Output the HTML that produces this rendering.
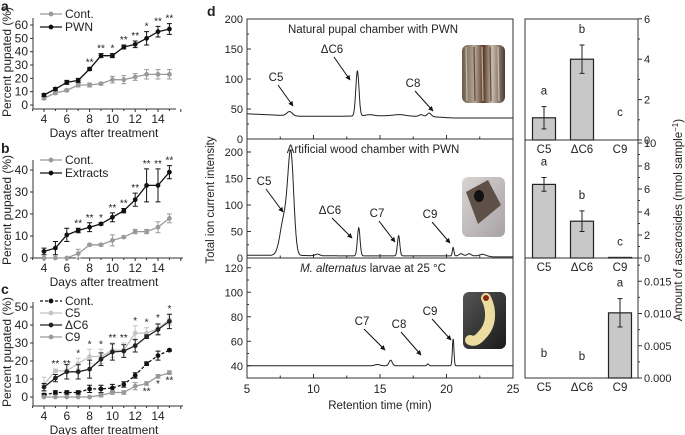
<!DOCTYPE html>
<html><head><meta charset="utf-8">
<style>
body{margin:0;background:#fff;}
svg{display:block;font-family:"Liberation Sans",Arial,sans-serif;}
text{fill:#222;}
</style></head>
<body>
<svg id="fig" width="685" height="435" viewBox="0 0 685 435" xmlns="http://www.w3.org/2000/svg">
<defs>
<marker id="arr" viewBox="0 0 10 10" refX="9" refY="5" markerWidth="5" markerHeight="5" orient="auto"><path d="M0,0 L10,5 L0,10 z" fill="#111"/></marker>
<linearGradient id="wood" x1="0" x2="1"><stop offset="0" stop-color="#6b5a4a"/><stop offset="0.3" stop-color="#b8a898"/><stop offset="0.5" stop-color="#5a3a28"/><stop offset="0.7" stop-color="#c8bcae"/><stop offset="1" stop-color="#4a3a30"/></linearGradient>
<linearGradient id="block" x1="0" y1="0" x2="1" y2="1"><stop offset="0" stop-color="#d8d4d2"/><stop offset="1" stop-color="#a8a2a6"/></linearGradient>
<linearGradient id="dark" x1="0" y1="0" x2="1" y2="1"><stop offset="0" stop-color="#555"/><stop offset="1" stop-color="#1a1a1a"/></linearGradient>
</defs>
<g id="root"></g>
</svg>
<script>
// ---------- Data: panels a–c ----------
const days = [4,5,6,7,8,9,10,11,12,13,14,15];
const aCont = [5,9,11,15,15,16,19,19,21,23,23,23];
const aContErr = [1,1,1,1.5,1.5,1,2.5,3,2.5,3.5,3.5,3.5];
const aPWN = [7.5,12,17,18.5,27,37,37,43.5,45.5,50,55,57];
const aPWNErr = [1,1,1.5,1.5,1,1.5,1.5,1.5,2.5,5,4,4];
const aStars = ["","","","","**","**","*","**","**","*","**","**"];
const bCont = [0,0,0,2,6,6,8,9.5,12,12,14,18];
const bContErr = [0,0,0,2,0.5,0.5,2.5,0.5,1,1,2.5,2];
const bExt = [3,4.5,10.5,12.5,14,15.5,18.5,21.5,26.5,33,33,39];
const bExtErr = [1.5,3,3,1,2,0.5,2,1,3,7.5,7.5,3];
const bStars = ["","","","**","**","*","**","**","**","**","**","**"];
const cCont = [1,2.5,2.5,2.5,4.5,4.5,5,7,12,18.5,23,26];
const cContErr = [1,1,1,1,2,2,2,1.5,1.5,1,2.5,0.5];
const cC5 = [7,14.5,14.5,18.5,22.5,22.5,26,26,35.5,35.5,38,43];
const cC5Err = [4,1,1,3,4,4,4,4,4,3,3,3];
const cDC6 = [5.5,10.5,14,14,15.5,21,25,25.5,28.5,33.5,37.5,42];
const cDC6Err = [2,2,4,4,5,3.5,4.5,3.5,3.5,1,3,4];
const cC9 = [0,0,0,0,0,1,2.5,2.5,6,7.5,11.5,13.5];
const cC9Err = [0,0,0,0,0,1,1,1,2,1,1,1];
const cStarsTop = ["","**","**","*","*","*","**","**","*","*","*","*"];
const cStarsBot = ["","","","","","","","","","**","*","**"];
const xTicksDays = [4,6,8,10,12,14];
// ---------- Data: chromatograms (peaks: retention time, height above baseline, width) ----------
const topBase = [[5,42],[7,40],[9,38],[12,38],[16,39],[19,37],[20.5,35],[25,35]];
const topPeakRT = [8.2,13.3,14.2,18.1,18.7,16.5];
const topPeakH = [7,75,2,3,6,2];
const topPeakW = [0.2,0.12,0.3,0.15,0.15,0.4];
const midBase = [[5,5],[8,5],[12,4],[20,4],[23,4],[23.5,2],[25,2]];
const midPeakRT = [7.8,8.3,10.3,13.4,16.4,20.5,21.1,21.7,22.7];
const midPeakH = [70,180,3,53,38,16,4,4,3];
const midPeakW = [0.3,0.22,0.15,0.1,0.09,0.06,0.15,0.15,0.2];
const botBase = [[5,40],[25,40]];
const botPeakRT = [14.8,15.8,18.6,20.5];
const botPeakH = [1,4.5,1.5,22];
const botPeakW = [0.2,0.12,0.07,0.06];
// ---------- Data: bars ----------
const barCats = ["C5","ΔC6","C9"];
const bar1Vals = [1.1,4.0,0];
const bar1Err = [0.55,0.7,0];
const bar1Letters = ["a","b","c"];
const bar2Vals = [6.4,3.2,0.05];
const bar2Err = [0.6,0.9,0];
const bar2Letters = ["a","b","c"];
const bar3Vals = [0,0,0.0101];
const bar3Err = [0,0,0.0022];
const bar3Letters = ["b","b","a"];

const NS="http://www.w3.org/2000/svg";
const root=document.getElementById('root');
function el(tag,attrs,parent,txt){const e=document.createElementNS(NS,tag);for(const k in attrs)e.setAttribute(k,attrs[k]);if(txt!==undefined)e.textContent=txt;(parent||root).appendChild(e);return e;}
function G(name){const g=el('g',{});return g;}

// ---------- Line charts ----------
function lineChart(cfg){
  const g=G(cfg.name);
  const X=d=>44+(d-4)*11.4;
  const Y=v=>cfg.y0-v*cfg.k;
  const ax=el('path',{d:`M33,${cfg.yTop} L33,${cfg.axY} L${cfg.xEnd},${cfg.axY}`,stroke:'#333',fill:'none','stroke-width':1},g);
  
  for(let d=3;d<=16;d++){el('line',{x1:X(d),x2:X(d),y1:cfg.axY,y2:cfg.axY+(d%2==0?3:2),stroke:'#333'},g);}
  xTicksDays.forEach(d=>{const t=el('text',{x:X(d),y:cfg.axY+14,'text-anchor':'middle','font-size':12},g,d);});
  cfg.yTicks.forEach(v=>{el('line',{x1:30,x2:33,y1:Y(v),y2:Y(v),stroke:'#333'},g);const t=el('text',{x:28,y:Y(v)+4,'text-anchor':'end','font-size':12},g,v);});
  const xt=el('text',{x:104,y:cfg.axY+28,'text-anchor':'middle','font-size':12},g,'Days after treatment');
  
  const yt=el('text',{x:0,y:0,'text-anchor':'middle','font-size':12,transform:`translate(11,${cfg.yMid}) rotate(-90)`},g,'Percent pupated (%)');
  
  const pl=el('text',{x:1,y:cfg.letterY,'font-size':14,'font-weight':'bold'},g,cfg.letter);
  
  cfg.series.forEach(s=>{
    const sg=el('g',{},g);
    s.vals.forEach((v,i)=>{if(s.err[i]>0){const x=X(days[i]);el('path',{d:`M${x},${Y(v-s.err[i])}V${Y(v+s.err[i])}M${x-2.5},${Y(v-s.err[i])}h5M${x-2.5},${Y(v+s.err[i])}h5`,stroke:s.c,fill:'none','stroke-width':1},sg);}});
    const pts=s.vals.map((v,i)=>X(days[i])+','+Y(v)).join(' ');
    const ln=el('polyline',{points:pts,fill:'none',stroke:s.c,'stroke-width':s.w||1.3,'stroke-dasharray':s.dash||'none'},sg);
    
    s.vals.forEach((v,i)=>{const m=el('circle',{cx:X(days[i]),cy:Y(v),r:1.9,fill:s.c,stroke:s.c},sg);});
  });
  (cfg.stars||[]).forEach(st=>{st.labels.forEach((lab,i)=>{if(!lab)return;const s=st.ref;const y=st.below?Y(s.vals[i]-s.err[i])+9:Y(s.vals[i]+s.err[i])-2;el('text',{x:X(days[i]),y:y,'text-anchor':'middle','font-size':st.size||10,fill:st.c||'#222'},g,lab);});});
  cfg.series.forEach((s,i)=>{const ly=cfg.legY+i*cfg.legDy;const lg=el('g',{},g);
    el('line',{x1:40,x2:62,y1:ly,y2:ly,stroke:s.c,'stroke-width':1.3,'stroke-dasharray':s.dash||'none'},lg);
    el('circle',{cx:51,cy:ly,r:1.9,fill:s.c,stroke:s.c},lg);
    el('text',{x:65,y:ly+4,'font-size':12},lg,s.label);});
}
const aS={key:'cont',label:'Cont.',vals:aCont,err:aContErr,c:'#9a9a9a'};
const aP={key:'pwn',label:'PWN',vals:aPWN,err:aPWNErr,c:'#111'};
lineChart({name:'panel-a',letter:'a',letterY:11,y0:105,k:1.333,yTop:18,axY:109,xEnd:176,yTicks:[0,10,20,30,40,50,60],yMid:62,legY:14,legDy:13,series:[aS,aP],stars:[{ref:aP,labels:aStars}]});
const bS={key:'cont',label:'Cont.',vals:bCont,err:bContErr,c:'#9a9a9a'};
const bE={key:'extracts',label:'Extracts',vals:bExt,err:bExtErr,c:'#111'};
lineChart({name:'panel-b',letter:'b',letterY:153,y0:258,k:2.2,yTop:160,axY:258,xEnd:183,yTicks:[0,10,20,30,40],yMid:210,legY:160,legDy:13,series:[bS,bE],stars:[{ref:bE,labels:bStars}]});
const cS1={key:'cont',label:'Cont.',vals:cCont,err:cContErr,c:'#111',dash:'3,2'};
const cS2={key:'c5',label:'C5',vals:cC5,err:cC5Err,c:'#c4c4c4'};
const cS3={key:'dc6',label:'ΔC6',vals:cDC6,err:cDC6Err,c:'#222'};
const cS4={key:'c9',label:'C9',vals:cC9,err:cC9Err,c:'#9a9a9a'};
lineChart({name:'panel-c',letter:'c',letterY:294,y0:397,k:1.8,yTop:302,axY:406,xEnd:183,yTicks:[0,10,20,30,40,50],yMid:352,legY:301,legDy:12,series:[cS1,cS2,cS3,cS4],stars:[{ref:cS2,labels:cStarsTop,c:'#bbb'},{ref:cS4,labels:cStarsBot,c:'#bbb',below:true}]});

// ---------- Chromatograms ----------
const RX=t=>247+(t-5)*13.3;
const chromG=G('panel-d-chromatograms');
el('text',{x:207,y:16,'font-size':14,'font-weight':'bold'},chromG,'d');
function interp(base,t){for(let i=0;i<base.length-1;i++){if(t<=base[i+1][0]){const f=(t-base[i][0])/(base[i+1][0]-base[i][0]);return base[i][1]+f*(base[i+1][1]-base[i][1]);}}return base[base.length-1][1];}
function chrom(cfg){
  const g=el('g',{},chromG);
  const Y=v=>cfg.yb-(v-cfg.vmin)*cfg.k;
  el('rect',{x:247,y:cfg.yt,width:266,height:cfg.yb-cfg.yt,fill:'none',stroke:'#333'},g);
  cfg.ticks.forEach(v=>{el('line',{x1:247,x2:251,y1:Y(v),y2:Y(v),stroke:'#333'},g);const t=el('text',{x:243,y:Y(v)+4,'text-anchor':'end','font-size':11},g,v);});
  cfg.minor.forEach(v=>el('line',{x1:247,x2:249,y1:Y(v),y2:Y(v),stroke:'#333'},g));
  for(let t=7.5;t<25;t+=2.5){el('line',{x1:RX(t),x2:RX(t),y1:cfg.yb,y2:cfg.yb-(t%5==0?4:2.5),stroke:'#333'},g);}
  let d='';
  for(let t=5;t<=25.001;t+=0.02){let v=interp(cfg.base,t);cfg.rt.forEach((r,i)=>{v+=cfg.h[i]*Math.exp(-((t-r)**2)/(2*cfg.w[i]**2));});d+=(d?'L':'M')+RX(t).toFixed(1)+','+Y(v).toFixed(1);}
  const p=el('path',{d:d,fill:'none',stroke:'#222','stroke-width':1},g);
  const tt=el('text',{x:373,y:cfg.yt+14,'text-anchor':'middle','font-size':11.5},g);
  if(cfg.italic){el('tspan',{'font-style':'italic'},tt,cfg.italic);el('tspan',{},tt,cfg.title);}else tt.textContent=cfg.title;
  
  cfg.ann.forEach(a=>{const ag=el('g',{},g);
    el('text',{x:a[0],y:a[1],'text-anchor':'middle','font-size':11.5},ag,a[2]);
    el('line',{x1:a[0]+2,y1:a[1]+4,x2:a[3],y2:a[4],stroke:'#111','stroke-width':1,'marker-end':'url(#arr)'},ag);});
}
chrom({name:'chromatogram-natural',yt:19,yb:139,vmin:0,k:0.6,ticks:[0,50,100,150,200],minor:[25,75,125,175],base:topBase,rt:topPeakRT,h:topPeakH,w:topPeakW,title:'Natural pupal chamber with PWN',
  ann:[[276,81,'C5',293,106],[332,53,'ΔC6',350,80],[413,87,'C8',433,111]]});
chrom({name:'chromatogram-artificial',yt:139,yb:258,vmin:0,k:0.53,ticks:[0,50,100,150,200],minor:[25,75,125,175],base:midBase,rt:midPeakRT,h:midPeakH,w:midPeakW,title:'Artificial wood chamber with PWN',
  ann:[[264,185,'C5',283,212],[330,214,'ΔC6',352,238],[377,217,'C7',395,242],[430,218,'C9',450,243]]});
chrom({name:'chromatogram-larvae',yt:258,yb:378,vmin:30,k:1.225,ticks:[40,60,80,100,120],minor:[50,70,90,110],base:botBase,rt:botPeakRT,h:botPeakH,w:botPeakW,italic:'M. alternatus',title:' larvae at 25 °C',
  ann:[[362,325,'C7',385,350],[399,328,'C8',421,355],[430,315,'C9',451,340]]});
[5,10,15,20,25].forEach(t=>{const l=el('text',{x:RX(t),y:393,'text-anchor':'middle','font-size':11.5},chromG,t);});
const rtT=el('text',{x:380,y:409,'text-anchor':'middle','font-size':11.5},chromG,'Retention time (min)');
const tic=el('text',{x:0,y:0,'text-anchor':'middle','font-size':11.5,transform:'translate(214,200) rotate(-90)'},chromG,'Total ion current intensity');
// photo insets
const ph=G('photo-insets');
el('rect',{x:462,y:45,width:43,height:58,rx:6,fill:'url(#wood)'},ph);
for(let i=0;i<5;i++)el('line',{x1:466+i*8,y1:47,x2:467+i*8,y2:101,stroke:i%2?'#3a2418':'#e0d8cc','stroke-width':1.2,opacity:0.7},ph);
el('rect',{x:462,y:177,width:43,height:60,rx:6,fill:'url(#block)'},ph);
el('polygon',{points:'466,192 488,180 501,205 478,224',fill:'#5e5046'},ph);
el('ellipse',{cx:479,cy:196,rx:5,ry:6,fill:'#111'},ph);
el('rect',{x:463,y:292,width:43,height:57,rx:6,fill:'url(#dark)'},ph);
el('path',{d:'M486,298 C492,310 492,325 482,335 C478,340 474,342 470,340',stroke:'#ecdca0','stroke-width':10,fill:'none','stroke-linecap':'round'},ph);
el('circle',{cx:486,cy:298,r:3,fill:'#8a2a10'},ph);

// ---------- Bars ----------
const BX=[544,582,620];
const barG=G('panel-d-bars');
function bars(cfg){
  const g=el('g',{},barG);
  const Y=v=>cfg.yb-v*cfg.k;
  el('rect',{x:525,y:cfg.yt,width:113,height:cfg.yb-cfg.yt,fill:'none',stroke:'#333'},g);
  cfg.ticks.forEach((v,i)=>{el('line',{x1:638,x2:642,y1:Y(v),y2:Y(v),stroke:'#333'},g);const t=el('text',{x:644,y:Y(v)+4,'font-size':11},g,cfg.tickLabels[i]);});
  cfg.minor.forEach(v=>el('line',{x1:638,x2:640,y1:Y(v),y2:Y(v),stroke:'#333'},g));
  cfg.vals.forEach((v,i)=>{
    const b=el('rect',{x:BX[i]-11.5,y:Y(v),width:23,height:Math.max(v*cfg.k,0),fill:'#c8c8c8',stroke:'#222','stroke-width':1.2},g);
    
    if(cfg.err[i]>0){el('path',{d:`M${BX[i]},${Y(v-cfg.err[i])}V${Y(v+cfg.err[i])}M${BX[i]-2.5},${Y(v-cfg.err[i])}h5M${BX[i]-2.5},${Y(v+cfg.err[i])}h5`,stroke:'#222',fill:'none'},g);}
    const top=Y(v+cfg.err[i]);
    el('text',{x:BX[i],y:(v>0?top-12:cfg.emptyY[i]),'text-anchor':'middle','font-size':11.5},g,cfg.letters[i]);
    el('text',{x:BX[i],y:cfg.yb+13,'text-anchor':'middle','font-size':11.5},g,barCats[i]);
  });
}
bars({name:'bars-natural',yt:19,yb:140,k:20.2,vals:bar1Vals,err:bar1Err,letters:bar1Letters,emptyY:[0,0,116],ticks:[0,2,4,6],tickLabels:['0','2','4','6'],minor:[1,3,5]});
bars({name:'bars-artificial',yt:140,yb:258,k:11.5,vals:bar2Vals,err:bar2Err,letters:bar2Letters,emptyY:[0,0,244],ticks:[0,2,4,6,8,10],tickLabels:['0','2','4','6','8','10'],minor:[1,3,5,7,9]});
bars({name:'bars-larvae',yt:258,yb:378,k:6450,vals:bar3Vals,err:bar3Err,letters:bar3Letters,emptyY:[357,360,0],ticks:[0,0.005,0.01,0.015],tickLabels:['0.000','0.005','0.010','0.015'],minor:[0.0025,0.0075,0.0125,0.0175]});
const at=el('text',{x:0,y:0,'text-anchor':'middle','font-size':11.5,transform:'translate(682,220) rotate(-90)'},barG);
at.textContent='Amount of ascarosides (nmol sample';
el('tspan',{'baseline-shift':'super','font-size':8},at,'−1');
el('tspan',{},at,')');

</script>
</body></html>
